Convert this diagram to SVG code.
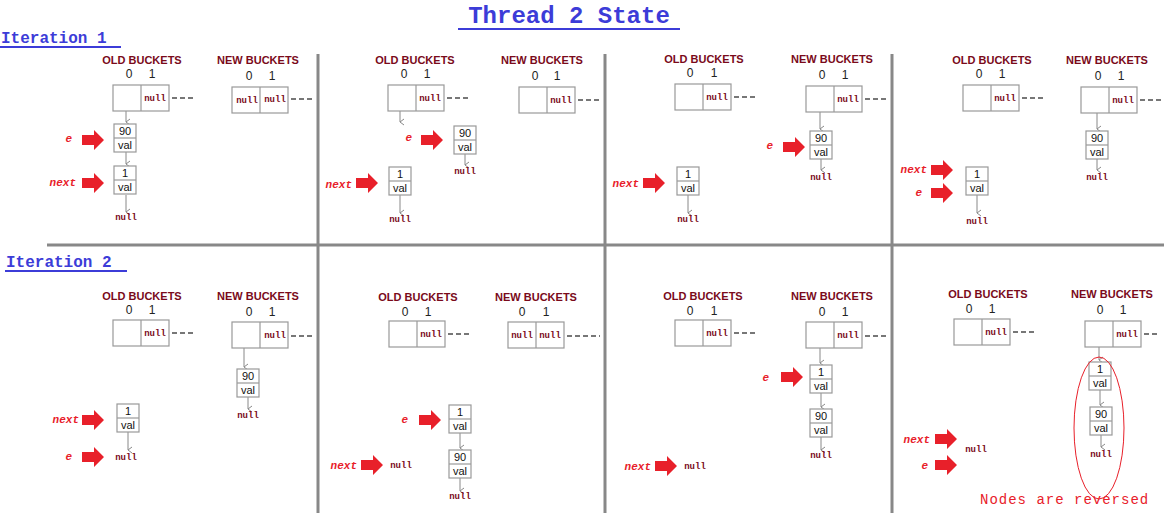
<svg xmlns="http://www.w3.org/2000/svg" xmlns:xlink="http://www.w3.org/1999/xlink" width="1164" height="513" viewBox="0 0 1164 513">
<style>
.bg{fill:#fff}
.div{stroke:#888;stroke-width:3}
.bk{fill:#fff;stroke:#999;stroke-width:1.2}
.lb{font-family:"Liberation Sans",Arial,sans-serif;font-weight:bold;font-size:11px;fill:#7a0a1a;text-anchor:middle}
.ix{font-family:"Liberation Sans",Arial,sans-serif;font-size:12px;fill:#222;text-anchor:middle}
.nl{font-family:"Liberation Mono",monospace;font-weight:bold;font-size:9px;fill:#7a0a1a;text-anchor:middle}
.nv{font-family:"Liberation Sans",Arial,sans-serif;font-size:11px;fill:#111;text-anchor:middle}
.ptr{font-family:"Liberation Mono",monospace;font-style:italic;font-weight:bold;font-size:11px;fill:#e8202a;text-anchor:end}
.dash{stroke:#777;stroke-width:2;stroke-dasharray:5,3}
.ar{stroke:#888;stroke-width:1;fill:none;marker-end:url(#ah)}
.ra{fill:#e8202a}
.hd{font-family:"Liberation Mono",monospace;font-weight:bold;fill:#3c3cd8}
</style>
<defs>
<marker id="ah" markerWidth="8" markerHeight="8" refX="4" refY="6" orient="auto" markerUnits="userSpaceOnUse"><path d="M1,2 L4,6 L7,2" fill="none" stroke="#888" stroke-width="1"/></marker>
<g id="bkt"><rect class="bk" x="0" y="0" width="56" height="26"/><line x1="28" y1="0" x2="28" y2="26" stroke="#999" stroke-width="1.2"/></g>
<g id="nd"><rect class="bk" x="0" y="0" width="22" height="28"/><line x1="0" y1="14" x2="22" y2="14" stroke="#999" stroke-width="1.2"/><text class="nv" x="11" y="25">val</text></g>
<polygon id="rarrow" class="ra" points="0,5 12,5 12,0 22,10 12,20 12,15 0,15"/>
</defs>
<rect class="bg" width="1164" height="513"/>
<text class="hd" x="569" y="23" font-size="24" text-anchor="middle">Thread 2 State</text>
<line x1="458" y1="29" x2="680" y2="29" stroke="#3c3cd8" stroke-width="2"/>
<text class="hd" x="1" y="43" font-size="16">Iteration 1</text>
<line x1="0" y1="47" x2="121" y2="47" stroke="#3c3cd8" stroke-width="2"/>
<text class="hd" x="6" y="267" font-size="16">Iteration 2</text>
<line x1="5" y1="271" x2="127" y2="271" stroke="#3c3cd8" stroke-width="2"/>
<g id="dividers">
<line class="div" x1="318" y1="54" x2="318" y2="513"/>
<line class="div" x1="605" y1="54" x2="605" y2="513"/>
<line class="div" x1="892" y1="54" x2="892" y2="513"/>
<line class="div" x1="47" y1="245" x2="1164" y2="245"/>
</g>
<g id="connectors">
<path class="ar" d="M126,111 V122"/><path class="ar" d="M126,152 V164"/><path class="ar" d="M126,195 V212"/>
<path class="ar" d="M400,111 V122"/><path class="ar" d="M465,153 V165"/><path class="ar" d="M400,195 V213"/>
<path class="ar" d="M820,112 V129"/><path class="ar" d="M821,159 V170"/><path class="ar" d="M688,195 V213"/>
<path class="ar" d="M1097,113 V129"/><path class="ar" d="M1097,159 V170"/><path class="ar" d="M977,195 V213"/>
<path class="ar" d="M244,348 V367"/><path class="ar" d="M248,397 V409"/><path class="ar" d="M128,432 V450"/>
<path class="ar" d="M460,433 V448"/><path class="ar" d="M460,478 V491"/>
<path class="ar" d="M820,348 V363"/><path class="ar" d="M821,392 V407"/><path class="ar" d="M821,436 V450"/>
<path class="ar" d="M1099,347 V360"/><path class="ar" d="M1100,390 V405"/><path class="ar" d="M1101,434 V447"/>
</g>
<!-- Panel T1 -->
<g id="t1">
<text class="lb" x="142" y="64">OLD  BUCKETS</text><text class="ix" x="129" y="78">0</text><text class="ix" x="152" y="78">1</text>
<use href="#bkt" x="113" y="85"/><text class="nl" x="155" y="101">null</text><line class="dash" x1="172" y1="98" x2="194" y2="98"/>
<text class="lb" x="258" y="64">NEW  BUCKETS</text><text class="ix" x="249" y="80">0</text><text class="ix" x="272" y="80">1</text>
<use href="#bkt" x="232" y="87"/><text class="nl" x="247" y="103">null</text><text class="nl" x="275" y="102">null</text><line class="dash" x1="291" y1="99" x2="313" y2="99"/>
<use href="#nd" x="114" y="124"/><text class="nv" x="125" y="135">90</text>
<use href="#nd" x="114" y="166"/><text class="nv" x="125" y="177">1</text>
<text class="nl" x="126" y="220">null</text>
<text class="ptr" x="72" y="142">e</text><use href="#rarrow" x="82" y="130"/>
<text class="ptr" x="76" y="186">next</text><use href="#rarrow" x="82" y="173"/>
</g>
<g id="t2">
<text class="lb" x="415" y="64">OLD  BUCKETS</text><text class="ix" x="404" y="78">0</text><text class="ix" x="427" y="78">1</text>
<use href="#bkt" x="388" y="85"/><text class="nl" x="430" y="101">null</text><line class="dash" x1="447" y1="98" x2="469" y2="98"/>
<text class="lb" x="542" y="64">NEW  BUCKETS</text><text class="ix" x="535" y="80">0</text><text class="ix" x="557" y="80">1</text>
<use href="#bkt" x="519" y="87"/><text class="nl" x="561" y="103">null</text><line class="dash" x1="578" y1="100" x2="600" y2="100"/>
<use href="#nd" x="454" y="126"/><text class="nv" x="465" y="137">90</text><text class="nl" x="465" y="174">null</text>
<use href="#nd" x="389" y="167"/><text class="nv" x="400" y="178">1</text><text class="nl" x="400" y="222">null</text>
<text class="ptr" x="412" y="141">e</text><use href="#rarrow" x="421" y="130"/>
<text class="ptr" x="352" y="188">next</text><use href="#rarrow" x="356" y="173"/>
</g>
<g id="t3">
<text class="lb" x="704" y="63">OLD  BUCKETS</text><text class="ix" x="690" y="77">0</text><text class="ix" x="714" y="77">1</text>
<use href="#bkt" x="675" y="84"/><text class="nl" x="717" y="100">null</text><line class="dash" x1="734" y1="97" x2="756" y2="97"/>
<text class="lb" x="832" y="63">NEW  BUCKETS</text><text class="ix" x="822" y="79">0</text><text class="ix" x="845" y="79">1</text>
<use href="#bkt" x="806" y="86"/><text class="nl" x="848" y="102">null</text><line class="dash" x1="865" y1="99" x2="887" y2="99"/>
<use href="#nd" x="810" y="131"/><text class="nv" x="821" y="142">90</text><text class="nl" x="821" y="180">null</text>
<use href="#nd" x="677" y="167"/><text class="nv" x="688" y="178">1</text><text class="nl" x="688" y="222">null</text>
<text class="ptr" x="773" y="149">e</text><use href="#rarrow" x="783" y="137"/>
<text class="ptr" x="639" y="187">next</text><use href="#rarrow" x="643" y="173"/>
</g>
<g id="t4">
<text class="lb" x="992" y="64">OLD  BUCKETS</text><text class="ix" x="979" y="78">0</text><text class="ix" x="1002" y="78">1</text>
<use href="#bkt" x="963" y="85"/><text class="nl" x="1005" y="101">null</text><line class="dash" x1="1022" y1="98" x2="1044" y2="98"/>
<text class="lb" x="1107" y="64">NEW  BUCKETS</text><text class="ix" x="1098" y="80">0</text><text class="ix" x="1121" y="80">1</text>
<use href="#bkt" x="1081" y="87"/><text class="nl" x="1123" y="103">null</text><line class="dash" x1="1140" y1="100" x2="1162" y2="100"/>
<use href="#nd" x="1086" y="131"/><text class="nv" x="1097" y="142">90</text><text class="nl" x="1097" y="180">null</text>
<use href="#nd" x="966" y="167"/><text class="nv" x="977" y="178">1</text><text class="nl" x="977" y="224">null</text>
<text class="ptr" x="927" y="173">next</text><use href="#rarrow" x="931" y="160"/>
<text class="ptr" x="922" y="196">e</text><use href="#rarrow" x="931" y="183"/>
</g>
<g id="b1">
<text class="lb" x="142" y="300">OLD  BUCKETS</text><text class="ix" x="129" y="314">0</text><text class="ix" x="152" y="314">1</text>
<use href="#bkt" x="113" y="320"/><text class="nl" x="155" y="336">null</text><line class="dash" x1="172" y1="333" x2="194" y2="333"/>
<text class="lb" x="258" y="300">NEW  BUCKETS</text><text class="ix" x="249" y="316">0</text><text class="ix" x="272" y="316">1</text>
<use href="#bkt" x="232" y="322"/><text class="nl" x="275" y="338">null</text><line class="dash" x1="291" y1="336" x2="313" y2="336"/>
<use href="#nd" x="237" y="369"/><text class="nv" x="248" y="380">90</text><text class="nl" x="248" y="418">null</text>
<use href="#nd" x="117" y="404"/><text class="nv" x="128" y="415">1</text><text class="nl" x="126" y="460">null</text>
<text class="ptr" x="79" y="423">next</text><use href="#rarrow" x="82" y="410"/>
<text class="ptr" x="72" y="460">e</text><use href="#rarrow" x="82" y="447"/>
</g>
<g id="b2">
<text class="lb" x="418" y="301">OLD  BUCKETS</text><text class="ix" x="405" y="316">0</text><text class="ix" x="428" y="316">1</text>
<use href="#bkt" x="389" y="321"/><text class="nl" x="431" y="337">null</text><line class="dash" x1="448" y1="334" x2="470" y2="334"/>
<text class="lb" x="536" y="301">NEW  BUCKETS</text><text class="ix" x="522" y="316">0</text><text class="ix" x="546" y="316">1</text>
<use href="#bkt" x="508" y="322"/><text class="nl" x="522" y="338">null</text><text class="nl" x="550" y="338">null</text><line class="dash" x1="567" y1="336" x2="600" y2="336"/>
<use href="#nd" x="449" y="405"/><text class="nv" x="460" y="416">1</text>
<use href="#nd" x="449" y="450"/><text class="nv" x="460" y="461">90</text><text class="nl" x="460" y="499">null</text>
<text class="ptr" x="408" y="423">e</text><use href="#rarrow" x="419" y="410"/>
<text class="ptr" x="357" y="469">next</text><use href="#rarrow" x="361" y="455"/><text class="nl" x="401" y="468">null</text>
</g>
<g id="b3">
<text class="lb" x="703" y="300">OLD  BUCKETS</text><text class="ix" x="690" y="315">0</text><text class="ix" x="714" y="315">1</text>
<use href="#bkt" x="675" y="320"/><text class="nl" x="717" y="336">null</text><line class="dash" x1="734" y1="333" x2="756" y2="333"/>
<text class="lb" x="832" y="300">NEW  BUCKETS</text><text class="ix" x="822" y="316">0</text><text class="ix" x="845" y="316">1</text>
<use href="#bkt" x="806" y="322"/><text class="nl" x="848" y="338">null</text><line class="dash" x1="865" y1="336" x2="887" y2="336"/>
<use href="#nd" x="810" y="365"/><text class="nv" x="821" y="376">1</text>
<use href="#nd" x="810" y="409"/><text class="nv" x="821" y="420">90</text><text class="nl" x="821" y="458">null</text>
<text class="ptr" x="769" y="381">e</text><use href="#rarrow" x="781" y="367"/>
<text class="ptr" x="651" y="470">next</text><use href="#rarrow" x="655" y="456"/><text class="nl" x="695" y="469">null</text>
</g>
<g id="b4">
<text class="lb" x="988" y="298">OLD  BUCKETS</text><text class="ix" x="969" y="313">0</text><text class="ix" x="992" y="313">1</text>
<use href="#bkt" x="954" y="319"/><text class="nl" x="996" y="335">null</text><line class="dash" x1="1013" y1="332" x2="1035" y2="332"/>
<text class="lb" x="1112" y="298">NEW  BUCKETS</text><text class="ix" x="1100" y="314">0</text><text class="ix" x="1123" y="314">1</text>
<use href="#bkt" x="1085" y="321"/><text class="nl" x="1127" y="337">null</text><line class="dash" x1="1144" y1="334" x2="1160" y2="334"/>
<use href="#nd" x="1089" y="362"/><text class="nv" x="1100" y="373">1</text>
<use href="#nd" x="1090" y="407"/><text class="nv" x="1101" y="418">90</text><text class="nl" x="1101" y="457">null</text>
<ellipse cx="1099" cy="428" rx="25" ry="71" fill="none" stroke="#e8202a" stroke-width="1"/>
<text class="ptr" x="930" y="443">next</text><use href="#rarrow" x="935" y="429"/>
<text class="ptr" x="928" y="469">e</text><use href="#rarrow" x="935" y="455"/>
<text class="nl" x="976" y="452">null</text>
<text x="980" y="504" font-family="Liberation Mono,monospace" font-size="14" fill="#e8202a" letter-spacing="1">Nodes are reversed</text>
</g>
</svg>
